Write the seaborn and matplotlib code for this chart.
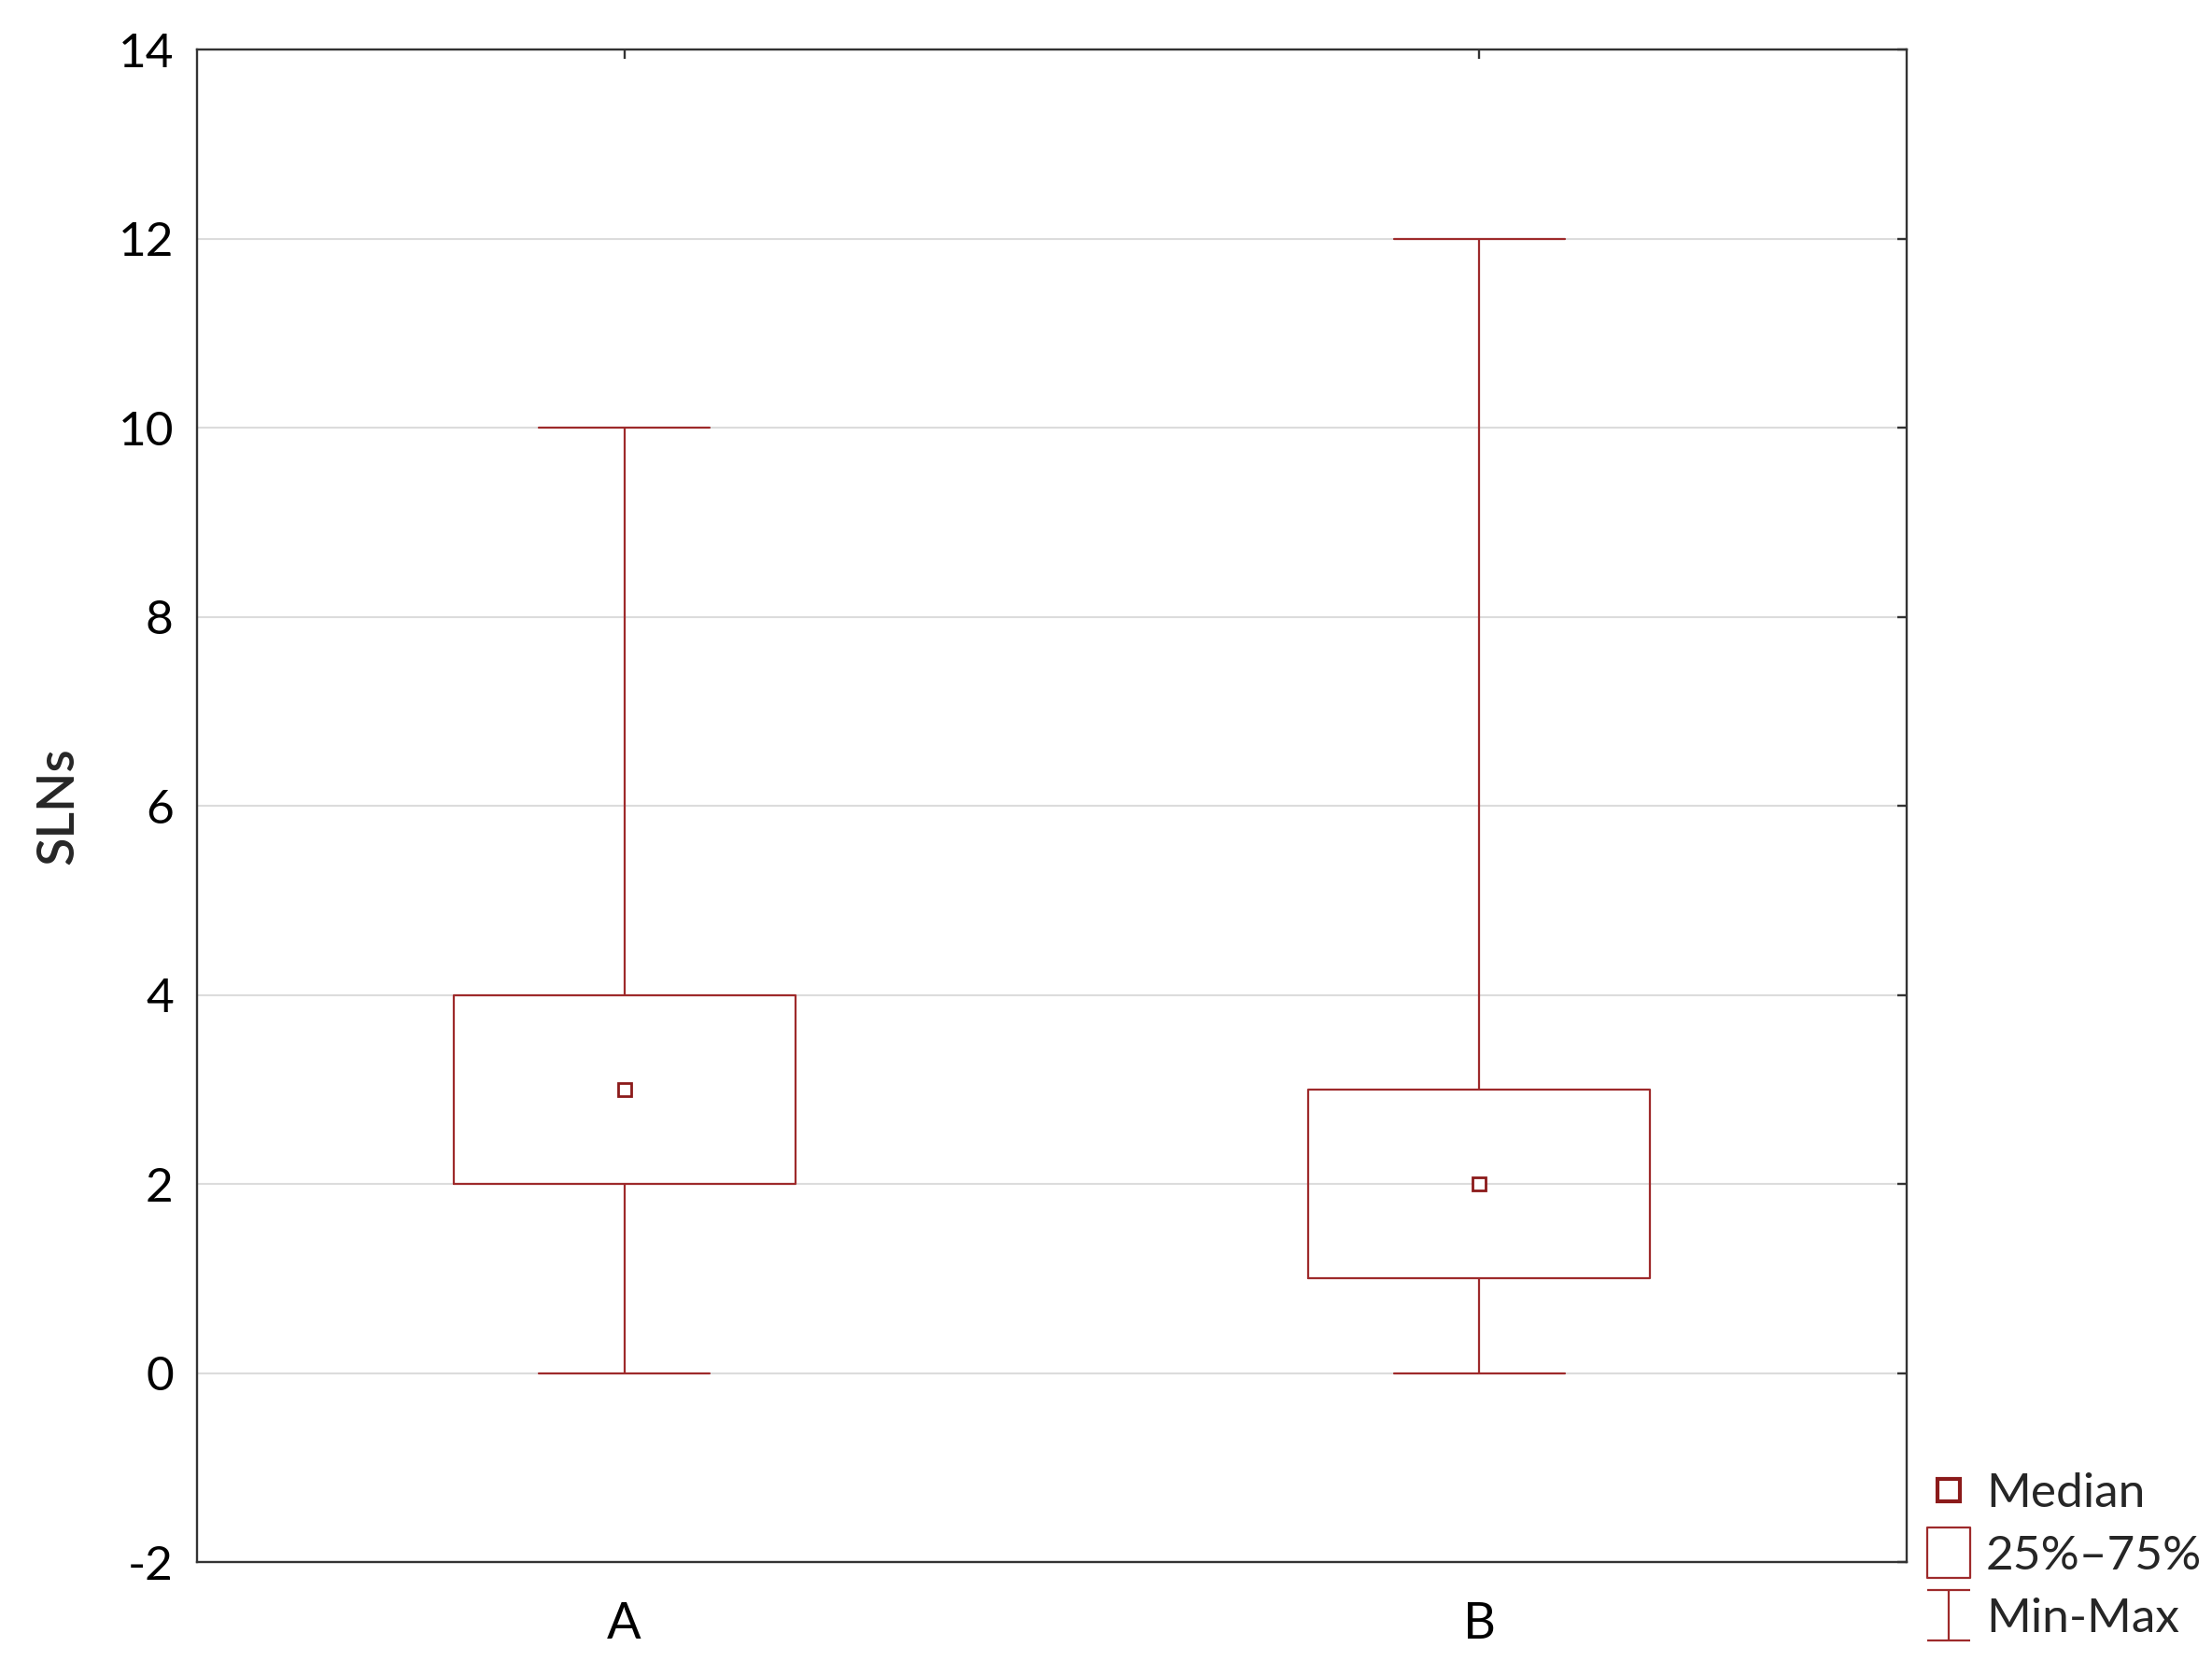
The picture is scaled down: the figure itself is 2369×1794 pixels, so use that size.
import numpy as np
import pandas as pd
import matplotlib
matplotlib.use("Agg")
import matplotlib.pyplot as plt
from matplotlib.lines import Line2D
from matplotlib.path import Path
import seaborn as sns

groups = ["A", "B"]
values_a = [0, 2, 3, 4, 10]
values_b = [0, 1, 2, 3, 12]
y_ticks = [-2, 0, 2, 4, 6, 8, 10, 12, 14]

df = pd.DataFrame({
    "group": ["A"] * len(values_a) + ["B"] * len(values_b),
    "SLNs": values_a + values_b,
})

RED = "#9e2a2b"
DARK_RED = "#8b1a1a"

sns.set_theme(style="white")
plt.rcParams["font.family"] = ["Lato", "DejaVu Sans"]

fig = plt.figure(figsize=(23.69, 17.94), dpi=100)
ax = fig.add_axes([0.089, 0.0674, 0.773, 0.903])

ax.set_axisbelow(True)
ax.yaxis.grid(True, color="#dcdcdc", linewidth=1.5)

sns.boxplot(
    data=df, x="group", y="SLNs", order=groups, ax=ax,
    width=0.4, whis=(0, 100), showfliers=False, fill=False,
    color=RED, linewidth=1.6,
    medianprops={"visible": False},
)
# median drawn as a small open square
sns.pointplot(
    data=df, x="group", y="SLNs", order=groups, ax=ax,
    estimator="median", errorbar=None, linestyle="none", marker="s",
    color=RED, markersize=10, markerfacecolor="white",
    markeredgewidth=2.0, markeredgecolor=DARK_RED,
)

ax.set_xlim(-0.5, 1.5)
ax.set_ylim(-2, 14)
ax.set_yticks(y_ticks)
ax.set_yticklabels([str(t) for t in y_ticks])
ax.set_xlabel("")
ax.set_ylabel("SLNs", fontsize=40, fontweight="semibold", labelpad=28)

for spine in ax.spines.values():
    spine.set_color("#333333")
    spine.set_linewidth(1.7)

ax.tick_params(axis="both", direction="in", length=7, width=1.7,
               color="#333333", labelcolor="black",
               top=True, right=True)
ax.tick_params(axis="y", labelsize=37, pad=18)
ax.tick_params(axis="x", labelsize=39, pad=30)

# Legend glyphs
box_path = Path(
    [(-0.42, -0.5), (0.42, -0.5), (0.42, 0.5), (-0.42, 0.5), (-0.42, -0.5)],
    [Path.MOVETO, Path.LINETO, Path.LINETO, Path.LINETO, Path.CLOSEPOLY],
)
whisker_path = Path(
    [(-0.42, -0.5), (0.42, -0.5), (0, -0.5), (0, 0.5), (-0.42, 0.5), (0.42, 0.5)],
    [Path.MOVETO, Path.LINETO, Path.MOVETO, Path.LINETO, Path.MOVETO, Path.LINETO],
)
handles = [
    Line2D([], [], linestyle="none", marker="s", markersize=17,
           markerfacecolor="white", markeredgecolor=DARK_RED, markeredgewidth=3),
    Line2D([], [], linestyle="none", marker=box_path, markersize=39,
           markerfacecolor="white", markeredgecolor=RED, markeredgewidth=1.6),
    Line2D([], [], linestyle="none", marker=whisker_path, markersize=39,
           fillstyle="none", markeredgecolor=RED, markeredgewidth=1.6),
]
labels = ["Median", "25%\u201375%", "Min-Max"]
fig.legend(handles, labels, loc="lower left", bbox_to_anchor=(0.869, 0.018),
           frameon=False, fontsize=37, handlelength=0.9, handletextpad=0.33,
           labelspacing=0.4, borderpad=0.1, borderaxespad=0.0)

fig.savefig("out.png", dpi=100)
